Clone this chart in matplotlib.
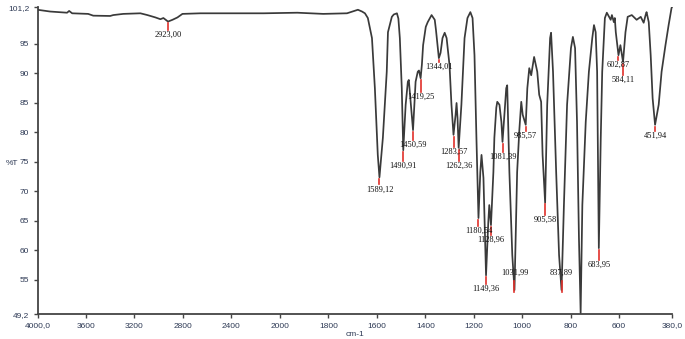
import numpy as np
import matplotlib as mpl
import matplotlib.pyplot as plt
from matplotlib.ticker import FixedLocator, NullLocator

mpl.rcParams['font.family'] = 'Liberation Sans'

#---------------------------------------------------------------------------------------------------
# Data
#---------------------------------------------------------------------------------------------------

wavenumber = [4000, 3896, 3756, 3739, 3714, 3582, 3540, 3400, 3375, 3292, 3151, 3093, 3027, 2986,
              2961, 2923, 2886, 2845, 2804, 2655, 2323, 2133, 1928, 1821, 1723, 1678, 1661, 1649,
              1637, 1620, 1608, 1596, 1589.12, 1575, 1559, 1554, 1538, 1530, 1517, 1511, 1505, 1497,
              1490.91, 1481, 1472, 1468, 1464, 1456, 1450.59, 1445, 1440, 1431, 1426, 1419.25, 1414,
              1409, 1398, 1390, 1374, 1361, 1356, 1344.01, 1337, 1329, 1320, 1312, 1300, 1292,
              1283.57, 1275, 1271, 1267, 1262.36, 1251, 1238, 1226, 1214, 1205, 1197, 1189, 1180.54,
              1173, 1168, 1160, 1149.36, 1140, 1136, 1128.96, 1119, 1115, 1107, 1103, 1094, 1086,
              1081.39, 1066, 1062, 1053, 1041, 1031.99, 1021, 1012, 1004, 998, 985.57, 979, 971,
              963, 951, 938, 930, 922, 916, 905.58, 897, 885, 881, 873, 860, 848, 837.89, 828, 815,
              799, 791, 782, 774, 766, 759, 752, 738, 725, 711, 704, 697, 691, 687, 683.95, 676,
              670, 659, 651, 635, 630, 622, 618, 614, 602.87, 595, 584.11, 574, 565, 548, 528, 511,
              499, 491, 487, 478, 470, 462, 451.94, 437, 425, 409, 396, 384, 380]

transmittance = [100.8, 100.5, 100.3, 100.6, 100.2, 100.1, 99.8, 99.75, 99.9, 100.1, 100.2, 99.9,
                 99.5, 99.2, 99.4, 98.8, 99.1, 99.5, 100.1, 100.2, 100.2, 100.2, 100.3, 100.1,
                 100.2, 100.8, 100.5, 100.2, 99.4, 96.0, 87.5, 76.2, 72.4, 79.1, 90.3, 97.0, 99.6,
                 100.0, 100.2, 99.3, 96.0, 87.5, 77.0, 84.7, 88.6, 88.9, 86.9, 83.0, 80.4, 84.7,
                 88.6, 90.3, 90.5, 89.2, 91.5, 94.8, 97.9, 98.7, 99.9, 99.1, 97.4, 92.6, 93.5, 96.0,
                 96.9, 96.0, 91.4, 84.7, 79.6, 83.0, 85.0, 82.5, 77.4, 84.7, 96.0, 99.4, 100.4,
                 99.4, 93.1, 79.1, 65.5, 73.3, 76.2, 72.3, 55.8, 64.8, 67.7, 64.3, 73.3, 79.1, 84.2,
                 85.2, 84.7, 81.8, 78.4, 87.5, 88.0, 73.3, 59.2, 53.3, 73.3, 80.4, 85.2, 83.0, 81.3,
                 87.5, 90.9, 89.7, 92.8, 90.3, 86.4, 85.2, 76.2, 68.1, 84.7, 96.0, 96.9, 90.3, 73.3,
                 59.2, 53.3, 67.7, 84.7, 94.3, 96.2, 94.3, 81.8, 62.1, 49.4, 67.7, 81.8, 90.3, 96.0,
                 98.2, 97.0, 90.3, 73.3, 60.4, 79.1, 90.3, 99.4, 100.3, 99.1, 99.9, 98.7, 99.4, 97.0,
                 93.1, 94.8, 91.95, 97.0, 99.6, 99.9, 99.1, 99.6, 98.6, 99.9, 100.4, 98.7, 93.1,
                 85.8, 81.3, 84.7, 90.3, 94.8, 98.2, 101.1, 101.4]

peak_wn = [2923.00, 1589.12, 1490.91, 1450.59, 1419.25, 1344.01, 1283.57, 1262.36, 1180.54,
           1149.36, 1128.96, 1081.39, 1031.99, 985.57, 905.58, 837.89, 683.95, 602.87, 584.11,
           451.94]

x_ticks = [4000, 3600, 3200, 2800, 2400, 2000, 1800, 1600, 1400, 1200, 1000, 800, 600, 380]
x_tick_labels = ['4000,0', '3600', '3200', '2800', '2400', '2000', '1800', '1600', '1400',
                 '1200', '1000', '800', '600', '380,0']
y_ticks = [49.2, 55, 60, 65, 70, 75, 80, 85, 90, 95, 101.2]
y_tick_labels = ['49,2', '55', '60', '65', '70', '75', '80', '85', '90', '95', '101,2']

#---------------------------------------------------------------------------------------------------
# Layout of the peak markers (pixels below the minimum; negative = label above the trace)
#---------------------------------------------------------------------------------------------------

marker_drop = [8, 7, 11, 10, 14, 4, 12, 13, 8, 9, 10, 10, -1, 6, 12, -1, 12, 5, 13, 6]

# The x axis is compressed by 2 above 2000 cm-1, as in the instrument printout
def fwd(x):
    x = np.asarray(x, dtype=float)
    return np.where(x <= 2000, x, 2000 + (x - 2000) / 2.0)

def inv(u):
    u = np.asarray(u, dtype=float)
    return np.where(u <= 2000, u, 2000 + (u - 2000) * 2.0)


def main():
    fig = plt.figure(figsize=(6.85, 3.39), dpi=100)
    ax = fig.add_axes([37.5 / 685, 1 - 314.2 / 339, 635 / 685, 306.8 / 339])

    ax.set_xscale('function', functions=(fwd, inv))
    ax.plot(wavenumber, transmittance, color='#3a3a3a', lw=1.25, zorder=3)
    ax.set_xlim(4000, 380)
    ax.set_ylim(49.2, 101.2)

    px = 52.0 / 306.8   # %T per pixel
    wn_inc = np.array(wavenumber)[::-1]
    t_inc = np.array(transmittance)[::-1]
    for w, drop in zip(peak_wn, marker_drop):
        t = float(np.interp(w, wn_inc, t_inc))
        lab = '{:.2f}'.format(w).replace('.', ',')
        if drop < 0:
            ax.plot([w, w], [t - 0.3, t + 1.6], color='#e0302a', lw=1.2, zorder=4)
            ax.text(w, t + 17 * px, lab, ha='center', va='center', fontsize=6,
                    family='Liberation Serif', color='#111111', zorder=5)
        else:
            ax.plot([w, w], [t - 0.3, t - drop * px], color='#e0302a', lw=1.2, zorder=4)
            ax.text(w, t - (drop + 1) * px, lab, ha='center', va='top', fontsize=6,
                    family='Liberation Serif', color='#111111', zorder=5)

    ax.xaxis.set_major_locator(FixedLocator(x_ticks))
    ax.xaxis.set_minor_locator(NullLocator())
    ax.set_xticklabels(x_tick_labels)
    ax.yaxis.set_major_locator(FixedLocator(y_ticks))
    ax.set_yticklabels(y_tick_labels)

    ax.tick_params(direction='out', length=3, width=1, color='#444444', labelsize=6,
                   labelcolor='#2e3a55', pad=3)
    for s in ['top', 'right']:
        ax.spines[s].set_visible(False)
    for s in ['left', 'bottom']:
        ax.spines[s].set_color('#444444')
        ax.spines[s].set_linewidth(1.3)

    ax.set_xlabel('cm-1', fontsize=6, color='#2e3a55', labelpad=1)
    ax.set_ylabel('%T', fontsize=6, color='#2e3a55', rotation=0, ha='center', va='center')
    ax.yaxis.set_label_coords(-0.04, 0.49)

    fig.savefig('out.png', dpi=100)
    plt.close(fig)


if __name__ == '__main__':
    main()
